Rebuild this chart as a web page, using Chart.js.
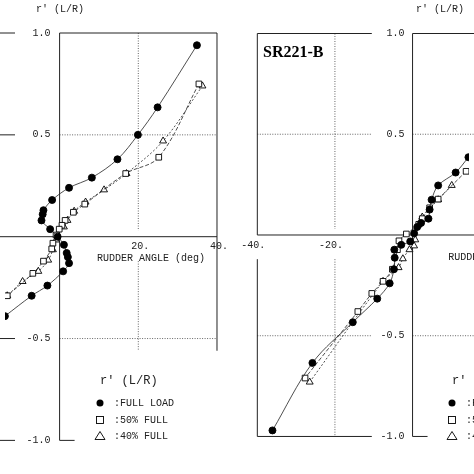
<!DOCTYPE html>
<html>
<head>
<meta charset="utf-8">
<script src="https://cdn.jsdelivr.net/npm/chart.js@4/dist/chart.umd.min.js"></script>
<style>
  html, body { margin: 0; padding: 0; background: #fff; }
  #wrap { position: relative; width: 474px; height: 474px; }
  canvas { position: absolute; top: 0; }
</style>
</head>
<body>
<div id="wrap">
  <canvas id="left" width="240" height="474" style="left:0"></canvas>
  <canvas id="right" width="234" height="474" style="left:240px"></canvas>
</div>
<script>
// ===== DATA (rudder angle deg, r' (L/R)) =====
const seriesNames = [':FULL LOAD', ':50% FULL', ':40% FULL'];

const leftFullX = [34.9, 24.9, 19.9, 14.7, 8.2, 2.4, -1.9, -4.1, -4.3, -4.6, -2.4, -0.5, 1.1, 1.8, 2.1, 2.4, 0.9, -3.1, -7.1, -13.9];
const leftFullY = [0.94, 0.635, 0.50, 0.38, 0.29, 0.24, 0.18, 0.13, 0.11, 0.08, 0.037, 0.0, -0.04, -0.08, -0.10, -0.13, -0.17, -0.24, -0.29, -0.39];
const leftHalfX = [35.4, 25.2, 16.8, 6.4, 3.5, 1.4, 0.6, -0.1, -0.9, -1.7, -2.0, -4.1, -6.8, -13.3];
const leftHalfY = [0.75, 0.39, 0.31, 0.16, 0.12, 0.08, 0.056, 0.037, 0.008, -0.032, -0.06, -0.12, -0.18, -0.29];
const leftFortyX = [36.3, 26.3, 17.0, 11.3, 6.6, 3.7, 2.0, 1.1, -0.9, -1.7, -2.9, -5.4, -9.4, -13.3];
const leftFortyY = [0.74, 0.47, 0.31, 0.23, 0.17, 0.125, 0.08, 0.048, -0.016, -0.064, -0.115, -0.17, -0.22, -0.29];

const rightFullX = [14.4, 11.1, 6.6, 4.9, 4.4, 4.1, 2.2, 1.2, 0.4, -0.6, -2.9, -4.7, -4.6, -4.8, -5.9, -9.1, -15.4, -25.8, -36.1];
const rightFullY = [0.386, 0.31, 0.246, 0.175, 0.126, 0.081, 0.06, 0.04, 0.008, -0.032, -0.049, -0.073, -0.113, -0.17, -0.24, -0.316, -0.433, -0.635, -0.97];
const rightHalfX = [13.8, 6.6, 4.4, 2.5, 1.6, -1.6, -3.5, -3.9, -5.2, -7.6, -10.5, -14.1, -27.7];
const rightHalfY = [0.316, 0.178, 0.135, 0.081, 0.053, 0.005, -0.029, -0.073, -0.17, -0.23, -0.29, -0.38, -0.71];
const rightFortyX = [10.1, 6.6, 2.5, 0.7, 0.4, -0.8, -2.5, -3.6, -7.6, -26.5];
const rightFortyY = [0.246, 0.175, 0.089, -0.024, -0.054, -0.073, -0.118, -0.162, -0.23, -0.73];

const leftXTicks = [20, 40];
const rightXTicks = [-40, -20];
const yTicks = [1.0, 0.5, -0.5, -1.0];

const FONT = '10px "Liberation Mono", "DejaVu Sans Mono", monospace';
const INK = '#222';

function pts(xs, ys) { return xs.map((x, i) => ({ x, y: ys[i] })); }

function dataset(label, data, style, dash) {
  return {
    label, data,
    showLine: true,
    borderColor: INK,
    borderWidth: 0.8,
    borderDash: dash,
    tension: 0.35,
    pointStyle: style,
    pointRadius: style === 'circle' ? 3.5 : 4,
    pointBackgroundColor: style === 'circle' ? '#000' : '#fff',
    pointBorderColor: '#000',
    pointBorderWidth: 0.9
  };
}

function line(ctx, x1, y1, x2, y2, dash) {
  ctx.save();
  ctx.setLineDash(dash || []);
  ctx.beginPath();
  ctx.moveTo(x1, y1);
  ctx.lineTo(x2, y2);
  ctx.stroke();
  ctx.restore();
}

function legend(ctx, x, y0) {
  ctx.fillStyle = INK;
  ctx.font = '12px "Liberation Mono", monospace';
  ctx.textAlign = 'left';
  ctx.fillText("r\u2032 (L/R)", x, y0);
  ctx.font = FONT;
  const rows = [y0 + 19, y0 + 36, y0 + 52];
  ctx.fillStyle = '#000';
  ctx.beginPath(); ctx.arc(x, rows[0], 3.5, 0, Math.PI * 2); ctx.fill();
  ctx.strokeStyle = '#000'; ctx.lineWidth = 0.9;
  ctx.strokeRect(x - 3.5, rows[1] - 3.5, 7, 7);
  ctx.beginPath(); ctx.moveTo(x, rows[2] - 4.5); ctx.lineTo(x + 5, rows[2] + 3.5); ctx.lineTo(x - 5, rows[2] + 3.5); ctx.closePath(); ctx.stroke();
  ctx.fillStyle = INK;
  ctx.textBaseline = 'middle';
  seriesNames.forEach((n, i) => ctx.fillText(n, x + 14, rows[i]));
}

const leftFrame = {
  id: 'leftFrame',
  beforeDatasetsDraw(chart) {
    const ctx = chart.ctx, xs = chart.scales.x, ys = chart.scales.y;
    const X = v => xs.getPixelForValue(v), Y = v => ys.getPixelForValue(v);
    ctx.save();
    ctx.strokeStyle = INK; ctx.lineWidth = 1;
    const x0 = X(0), x40 = X(40);
    line(ctx, x0, Y(1), x0, Y(-1));
    line(ctx, x0, Y(1), x40, Y(1));
    line(ctx, x40, Y(1), x40, Y(-0.56));
    line(ctx, x0, Y(-1), x0 + 15, Y(-1));
    line(ctx, 0, Y(0), x40, Y(0));
    ctx.lineWidth = 0.7;
    line(ctx, X(20), Y(1), X(20), Y(0.03), [1, 1.5]);
    line(ctx, X(20), Y(-0.12), X(20), Y(-0.56), [1, 1.5]);
    line(ctx, x0, Y(0.5), x40, Y(0.5), [1, 1.5]);
    line(ctx, x0, Y(-0.5), x40, Y(-0.5), [1, 1.5]);
    ctx.lineWidth = 1;
    yTicks.forEach(v => line(ctx, 0, Y(v), 15, Y(v)));
    ctx.fillStyle = INK; ctx.font = FONT;
    ctx.textAlign = 'right'; ctx.textBaseline = 'middle';
    yTicks.forEach(v => ctx.fillText(v.toFixed(1), x0 - 9, Y(v)));
    ctx.textAlign = 'center'; ctx.textBaseline = 'top';
    leftXTicks.forEach(v => ctx.fillText(v + '.', X(v) + 2, Y(0) + 5));
    ctx.textAlign = 'left';
    ctx.fillText('RUDDER ANGLE (deg)', X(9.5), Y(0) + 17);
    ctx.textBaseline = 'alphabetic';
    ctx.fillText("r\u2032 (L/R)", 36, 12);
    legend(ctx, 100, 384);
    ctx.restore();
  }
};

const rightFrame = {
  id: 'rightFrame',
  beforeDatasetsDraw(chart) {
    const ctx = chart.ctx, xs = chart.scales.x, ys = chart.scales.y;
    const X = v => xs.getPixelForValue(v), Y = v => ys.getPixelForValue(v);
    ctx.save();
    ctx.strokeStyle = INK; ctx.lineWidth = 1;
    const x0 = X(0), xl = X(-40), w = chart.width;
    line(ctx, x0, Y(1), x0, Y(-1));
    line(ctx, xl, Y(1), X(-10.5), Y(1));
    line(ctx, x0, Y(1), w, Y(1));
    line(ctx, xl, Y(1), xl, Y(0));
    line(ctx, xl, Y(-0.12), xl, Y(-1));
    line(ctx, xl, Y(-1), X(-10.5), Y(-1));
    line(ctx, x0, Y(-1), x0 + 15, Y(-1));
    line(ctx, xl, Y(0), w, Y(0));
    ctx.lineWidth = 0.7;
    line(ctx, X(-20), Y(1), X(-20), Y(0.03), [1, 1.5]);
    line(ctx, X(-20), Y(-0.12), X(-20), Y(-1), [1, 1.5]);
    [0.5, -0.5].forEach(v => {
      line(ctx, xl, Y(v), X(-10.5), Y(v), [1, 1.5]);
      line(ctx, x0, Y(v), w, Y(v), [1, 1.5]);
    });
    ctx.fillStyle = INK; ctx.font = FONT;
    ctx.textAlign = 'right'; ctx.textBaseline = 'middle';
    yTicks.forEach(v => ctx.fillText(v.toFixed(1), x0 - 8, Y(v)));
    ctx.textAlign = 'center'; ctx.textBaseline = 'top';
    rightXTicks.forEach(v => ctx.fillText(v + '.', X(v) - 4, Y(0) + 5));
    ctx.textAlign = 'left';
    ctx.fillText('RUDDER ANGLE (deg)', X(9.2), Y(0) + 17);
    ctx.textBaseline = 'alphabetic';
    ctx.fillText("r\u2032 (L/R)", 176, 12);
    ctx.fillStyle = '#000';
    ctx.font = 'bold 16px "Liberation Serif", serif';
    ctx.fillText('SR221-B', 23, 57);
    legend(ctx, 212, 384);
    ctx.restore();
  }
};

function makeChart(id, full, half, forty, xr, yr, plugin) {
  return new Chart(document.getElementById(id), {
    type: 'scatter',
    data: {
      datasets: [
        dataset(seriesNames[0], full, 'circle', []),
        dataset(seriesNames[1], half, 'rect', [4, 2]),
        dataset(seriesNames[2], forty, 'triangle', [2, 2])
      ]
    },
    options: {
      responsive: false,
      animation: false,
      layout: { padding: 0 },
      plugins: { legend: { display: false }, tooltip: { enabled: false } },
      scales: {
        x: { type: 'linear', min: xr[0], max: xr[1], display: false },
        y: { type: 'linear', min: yr[0], max: yr[1], display: false }
      }
    },
    plugins: [plugin]
  });
}

makeChart('left', pts(leftFullX, leftFullY), pts(leftHalfX, leftHalfY), pts(leftFortyX, leftFortyY),
  [-13.9, 44.6], [-1.141, 1.138], leftFrame);
makeChart('right', pts(rightFullX, rightFullY), pts(rightHalfX, rightHalfY), pts(rightFortyX, rightFortyY),
  [-43.2, 14.57], [-1.162, 1.142], rightFrame);
</script>
</body>
</html>
